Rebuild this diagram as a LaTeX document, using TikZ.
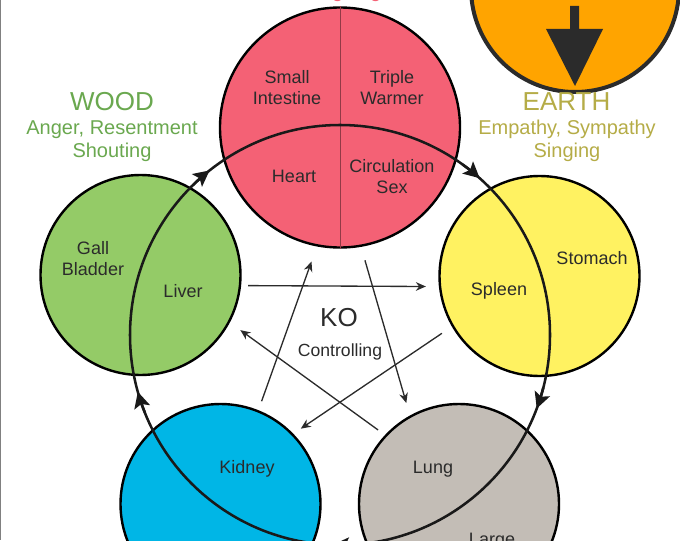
\documentclass[tikz,border=0pt]{standalone}
\usepackage{fontspec}
\setmainfont{Liberation Sans}
\usetikzlibrary{arrows.meta}
\definecolor{firered}{HTML}{F46175}
\definecolor{woodgreen}{HTML}{94CB67}
\definecolor{earthyellow}{HTML}{FFF261}
\definecolor{waterblue}{HTML}{00B6E6}
\definecolor{metalgray}{HTML}{C3BDB6}
\definecolor{topamber}{HTML}{FFA400}
\definecolor{woodtext}{HTML}{6AA84F}
\definecolor{earthtext}{HTML}{B5AC47}
\definecolor{inkdark}{HTML}{2B2B2B}
\tikzset{
  element/.style={circle, draw=black, line width=1.8pt, inner sep=0pt, minimum size=150pt},
  organ/.style={inner sep=0pt, align=center, text=inkdark, font=\fontsize{13.5}{15.75}\selectfont},
  title/.style={inner sep=0pt, align=center, font=\fontsize{19.5}{21}\selectfont},
  mood/.style={inner sep=0pt, align=center, font=\fontsize{15}{17}\selectfont},
  koline/.style={draw=inkdark, line width=1pt, -{Stealth[length=7.5pt, width=6.5pt]}},
  shengline/.style={draw=black!90, line width=1.9pt},
  shengtip/.style={shengline, -{Stealth[length=12pt, width=12pt, inset=2.5pt]}}
}
\begin{document}
\begin{tikzpicture}[x=0.75pt, y=0.75pt]
  \useasboundingbox (0,0) rectangle (680,540);
  \clip (0,0) rectangle (680,540);
  \fill[gray] (0,0) rectangle (1.2,540);

  % the six circles
  \node[element, fill=firered, minimum size=180pt] (fire) at (340,412.5) {};
  \node[element, fill=woodgreen] (wood) at (140.5,265) {};
  \node[element, fill=earthyellow] (earth) at (539.5,264) {};
  \node[element, fill=waterblue] (water) at (220.5,36) {};
  \node[element, fill=metalgray] (metal) at (459,36) {};
  \node[element, fill=topamber, draw=inkdark, line width=3pt, minimum size=156pt] (amber) at (575,552) {};

  \draw[firered!60!black, line width=0.6pt] (fire.north) -- (fire.south);
  \fill[inkdark] (570,534) -- (579,534) -- (579,511) -- (603,511) -- (575,454) -- (546,511) -- (570,511) -- cycle;

  % controlling star
  \draw[koline, shorten <=5.25pt, shorten >=9.75pt] (wood.-6) -- (earth.186);
  \draw[koline, shorten <=10.5pt, shorten >=9.75pt] (fire.-80.5) -- (metal.119.4);
  \draw[koline, shorten <=9pt, shorten >=6.75pt] (earth.210.2) -- (water.44.2);
  \draw[koline, shorten <=6.4pt, shorten >=9.75pt] (metal.137.9) -- (wood.-28.8);
  \draw[koline, shorten <=7.1pt, shorten >=12pt] (water.68.7) -- (fire.-101.9);

  % outer cycle
  \coordinate (hub) at (340,205);
  \draw[shengline] (hub) circle (210);
  \foreach \a in {128.4,48.3,-20.5,-92,195.7}
    \draw[shengtip] ([shift={(\a+6:210)}]hub) arc (\a+6:\a:210);

  \node[organ] (small) at (287,452.5) {Small\\Intestine};
  \node[organ] (triple) at (392,452.5) {Triple\\Warmer};
  \node[organ] (heart) at (294,364) {Heart};
  \node[organ] (circulation) at (392,363.5) {Circulation\\Sex};
  \node[organ] (gall) at (93,281.5) {Gall\\Bladder};
  \node[organ] (liver) at (183,249) {Liver};
  \node[organ] (spleen) at (499,249) {Spleen};
  \node[organ] (stomach) at (592,282) {Stomach};
  \node[organ] (kidney) at (247,71) {Kidney};
  \node[organ] (lung) at (433,71) {Lung};
  \node[organ] (large) at (492,-1) {Large};

  \node[title, text=woodtext] (woodname) at (112,438) {WOOD};
  \node[mood, text=woodtext] (woodmood) at (112,399) {Anger, Resentment\\Shouting};
  \node[title, text=earthtext] (earthname) at (566.5,438) {EARTH};
  \node[mood, text=earthtext] (earthmood) at (567,399) {Empathy, Sympathy\\Singing};
  \node[mood, text=firered, anchor=base] (firemood) at (340,542.5) {Laughing};

  \node[title, text=inkdark] (koname) at (339,222) {KO};
  \node[organ, font=\fontsize{13.2}{15}\selectfont] (kotext) at (340,188) {Controlling};
\end{tikzpicture}
\end{document}
